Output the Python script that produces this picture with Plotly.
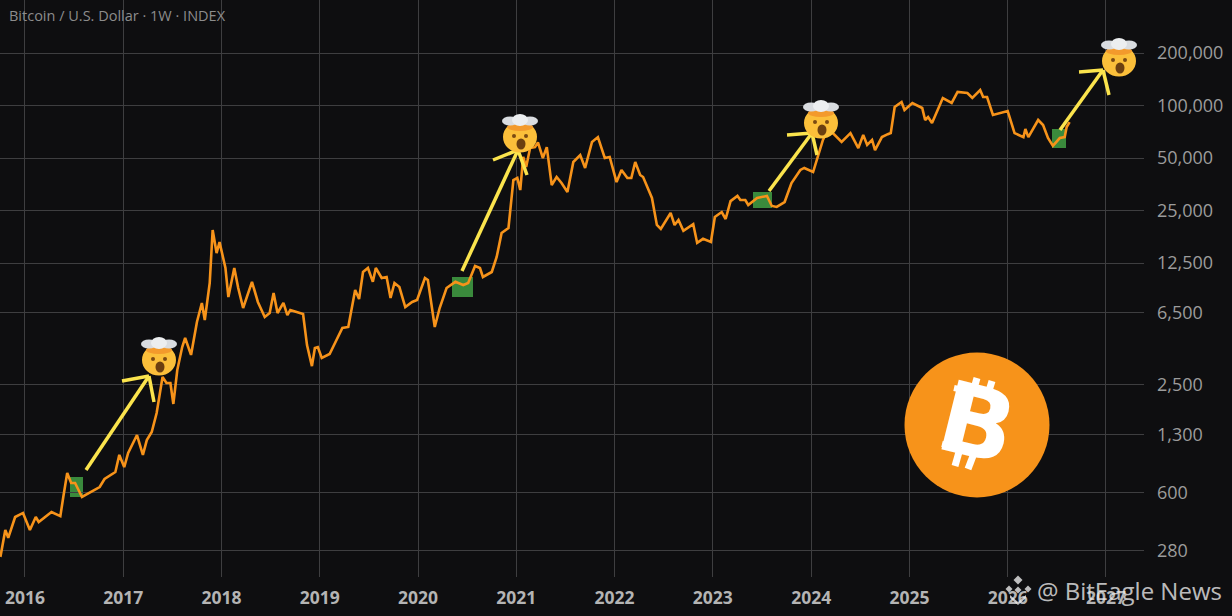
import plotly.graph_objects as go

# weekly BTC close (decimal year, USD)
years = [
    2015.75, 2015.80, 2015.83, 2015.90, 2015.98, 2016.05, 2016.11, 2016.14, 2016.27, 2016.36, 2016.39, 2016.43,
    2016.47, 2016.51, 2016.58, 2016.68, 2016.76, 2016.81, 2016.92, 2016.96, 2017.01, 2017.05, 2017.14, 2017.20,
    2017.24, 2017.29, 2017.34, 2017.40, 2017.44, 2017.48, 2017.51, 2017.55, 2017.60, 2017.63, 2017.69, 2017.75,
    2017.80, 2017.83, 2017.88, 2017.91, 2017.95, 2017.98, 2018.04, 2018.07, 2018.11, 2018.13, 2018.17, 2018.22,
    2018.31, 2018.37, 2018.44, 2018.49, 2018.53, 2018.57, 2018.63, 2018.67, 2018.70, 2018.83, 2018.87, 2018.92,
    2018.95, 2018.98, 2019.02, 2019.10, 2019.23, 2019.29, 2019.36, 2019.40, 2019.44, 2019.49, 2019.54, 2019.57,
    2019.63, 2019.68, 2019.72, 2019.76, 2019.81, 2019.87, 2019.94, 2019.99, 2020.07, 2020.10, 2020.17, 2020.22,
    2020.29, 2020.38, 2020.46, 2020.51, 2020.58, 2020.63, 2020.66, 2020.75, 2020.80, 2020.85, 2020.92, 2020.97,
    2021.01, 2021.04, 2021.07, 2021.10, 2021.14, 2021.19, 2021.22, 2021.27, 2021.31, 2021.36, 2021.41, 2021.46,
    2021.52, 2021.58, 2021.65, 2021.70, 2021.77, 2021.83, 2021.90, 2021.95, 2022.02, 2022.07, 2022.13, 2022.17,
    2022.21, 2022.26, 2022.29, 2022.38, 2022.43, 2022.47, 2022.57, 2022.61, 2022.65, 2022.70, 2022.80, 2022.84,
    2022.90, 2022.98, 2023.02, 2023.09, 2023.13, 2023.18, 2023.25, 2023.28, 2023.33, 2023.36, 2023.45, 2023.55,
    2023.60, 2023.65, 2023.73, 2023.80, 2023.89, 2023.93, 2024.02, 2024.07, 2024.12, 2024.16, 2024.22, 2024.31,
    2024.40, 2024.48, 2024.53, 2024.57, 2024.62, 2024.65, 2024.72, 2024.78, 2024.81, 2024.85, 2024.92, 2024.95,
    2025.03, 2025.13, 2025.16, 2025.19, 2025.23, 2025.34, 2025.43, 2025.49, 2025.59, 2025.64, 2025.72, 2025.75,
    2025.79, 2025.85, 2026.00, 2026.07, 2026.16, 2026.18, 2026.21, 2026.31, 2026.36, 2026.41, 2026.46, 2026.53,
    2026.58, 2026.60, 2026.63,
]
prices = [
    258, 368, 332, 437, 461, 368, 437, 409, 467, 442, 569, 781,
    685, 685, 569, 616, 649, 722, 791, 992, 845, 1017, 1290, 992,
    1207, 1342, 1726, 2775, 2563, 2563, 1944, 3044, 4119, 4644, 3713, 5737,
    7375, 5888, 9600, 19325, 14250, 16475, 11700, 7975, 10675, 11700, 8990, 6900,
    9750, 7475, 6130, 6460, 8410, 6460, 7375, 6280, 6725, 6370, 4230, 3205,
    4070, 4119, 3565, 3760, 5300, 5370, 8750, 7775, 11100, 11700, 9750, 11700,
    10250, 10390, 7875, 9600, 9100, 6990, 7475, 7670, 10250, 9990, 5370, 6900,
    8990, 9750, 9350, 9600, 12010, 11700, 10390, 11100, 13525, 18575, 19850, 37400,
    38400, 32750, 50700, 44400, 57000, 57700, 61400, 50000, 57700, 35000, 38900, 35950,
    31900, 47450, 52000, 43850, 61800, 65900, 50000, 50700, 36400, 42700, 38400, 38400,
    47450, 39950, 38900, 29500, 20650, 19600, 24200, 20650, 22050, 19100, 20900, 16300,
    17200, 16500, 22950, 24500, 22350, 28300, 30300, 28700, 28700, 26900, 29500, 30300,
    26550, 26200, 27950, 35950, 42700, 43850, 41550, 50700, 63500, 70500, 69500, 61800,
    69500, 57000, 67700, 59400, 63500, 55500, 65900, 68500, 69500, 98000, 104800, 94200,
    103400, 96800, 82600, 85900, 79400, 110400, 103400, 119600, 118000, 110400, 122700, 111800,
    111800, 88200, 93000, 69500, 65900, 73400, 65900, 82600, 77300, 65100, 58700, 65100,
    65900, 75300, 80300,
]

year_ticks = [2016, 2017, 2018, 2019, 2020, 2021, 2022, 2023, 2024, 2025, 2026, 2027]
price_ticks = [400000, 200000, 100000, 50000, 25000, 12500, 6500, 2500, 1300, 600, 280]
price_labels = ["", "200,000", "100,000", "50,000", "25,000", "12,500", "6,500", "2,500", "1,300", "600", "280"]

title_text = "Bitcoin / U.S. Dollar · 1W · INDEX"
watermark = "@ BitEagle News"

BG = "#0e0e10"
GRID = "#3e3e40"
ORANGE = "#f7931a"
YELLOW = "#fbe44d"
GREEN = "#3a8a3c"

PLOT_W = 1144
PLOT_H = 577


def px(x):
    return x / PLOT_W


def py(y):
    return 1 - y / PLOT_H


def seg(x0, y0, x1, y1, color, width):
    return dict(type="line", xref="paper", yref="paper", x0=px(x0), y0=py(y0), x1=px(x1), y1=py(y1),
                line=dict(color=color, width=width), layer="above")


def oval(cx, cy, rx, ry, color):
    return dict(type="circle", xref="paper", yref="paper", x0=px(cx - rx), x1=px(cx + rx),
                y0=py(cy - ry), y1=py(cy + ry), fillcolor=color, line=dict(width=0), layer="above")


def box(x0, y0, x1, y1):
    return dict(type="rect", xref="paper", yref="paper", x0=px(x0), x1=px(x1), y0=py(y0), y1=py(y1),
                fillcolor=GREEN, line=dict(width=0), layer="below")


def poly(points, color):
    path = "M " + " L ".join(f"{px(a):.5f},{py(b):.5f}" for a, b in points) + " Z"
    return dict(type="path", xref="paper", yref="paper", path=path, fillcolor=color,
                line=dict(width=0), layer="above")


def arrow(start, tip, barb1, barb2):
    return [seg(*start, *tip, YELLOW, 3.5), seg(*barb1, *tip, YELLOW, 3.5), seg(*barb2, *tip, YELLOW, 3.5)]


def mind_blown(cx, cy):
    parts = [
        oval(cx, cy, 17, 15.5, "#fbbf3a"),
        oval(cx, cy - 10, 13, 4, "#f39a2c"),
        oval(cx - 10, cy - 16, 8, 4.5, "#d9dce0"),
        oval(cx + 10, cy - 16, 8, 4.5, "#d9dce0"),
        oval(cx, cy - 17, 8, 6, "#eceef0"),
        oval(cx - 6, cy - 1, 2, 2, "#7a4a12"),
        oval(cx + 6, cy - 1, 2, 2, "#7a4a12"),
        oval(cx + 1, cy + 7, 4.5, 5.5, "#6b3f10"),
    ]
    return parts


def diamond(cx, cy, r, color):
    return poly([(cx, cy - r), (cx + r, cy), (cx, cy + r), (cx - r, cy)], color)


shapes = []
shapes += [box(70, 477, 83, 497), box(452, 277, 473, 297), box(753, 192, 772, 208), box(1052, 129, 1066, 148)]
shapes += arrow((86, 470), (149, 376), (122, 381), (154, 402))
shapes += arrow((462, 271), (518, 150), (493, 160), (527, 175))
shapes += arrow((769, 191), (812, 133), (787, 135), (817, 155))
shapes += arrow((1060, 130), (1103, 70), (1079, 72), (1109, 95))
for c in [(159, 360), (520, 137), (821, 123), (1119, 61)]:
    shapes += mind_blown(*c)

# bitcoin logo
shapes.append(oval(977, 425, 72.5, 72.5, ORANGE))

# binance diamond next to the watermark
WM = "rgba(235,235,235,0.8)"
shapes += [diamond(1018, 580, 4.5, WM), diamond(1009, 589, 3.5, WM), diamond(1028, 589, 3.5, WM),
           diamond(1018, 590, 3.5, WM)]
shapes.append(poly([(1010, 595), (1018, 602), (1026, 595), (1026, 598), (1018, 605), (1010, 598)], WM))

fig = go.Figure()
fig.add_trace(go.Scatter(x=years, y=prices, mode="lines", line=dict(color=ORANGE, width=2.6), hoverinfo="skip"))

# bars and serifs of the bitcoin sign, drawn over the circle
fig.update_layout(
    width=1232,
    height=616,
    margin=dict(l=0, r=88, t=0, b=39),
    paper_bgcolor=BG,
    plot_bgcolor=BG,
    showlegend=False,
    shapes=shapes + [
        seg(977, 378, 973, 392, "#ffffff", 7),
        seg(992, 381, 988, 394, "#ffffff", 7),
        seg(959, 452, 955, 466, "#ffffff", 7),
        seg(973, 456, 968, 469, "#ffffff", 7),
        seg(954, 388, 972, 392, "#ffffff", 6),
        seg(942, 444, 965, 450, "#ffffff", 6),
    ],
    xaxis=dict(
        range=[2015.746, 2027.387],
        tickvals=year_ticks,
        ticktext=[str(y) for y in year_ticks],
        showgrid=True,
        gridcolor=GRID,
        gridwidth=1,
        zeroline=False,
        showline=False,
        ticks="",
        ticklabelstandoff=8,
        tickfont=dict(family="Open Sans", size=17.5, color="#b4b4b4", weight="bold"),
    ),
    yaxis=dict(
        type="log",
        side="right",
        range=[2.2964, 5.605],
        tickvals=price_ticks,
        ticktext=price_labels,
        showgrid=True,
        gridcolor=GRID,
        gridwidth=1,
        zeroline=False,
        showline=False,
        ticks="",
        ticklabelstandoff=12,
        tickfont=dict(family="Open Sans", size=18, color="#9c9c9c"),
    ),
    annotations=[
        dict(text=title_text, xref="paper", yref="paper", x=px(7), y=py(15), xanchor="left", yanchor="middle",
             showarrow=False, font=dict(family="Open Sans", size=14.5, color="#8c8c8c")),
        dict(text=watermark, xref="paper", yref="paper", x=px(1035), y=py(590), xanchor="left", yanchor="middle",
             showarrow=False, font=dict(family="Open Sans", size=24, color="rgba(235,235,235,0.8)")),
        dict(text="B", xref="paper", yref="paper", x=px(977), y=py(423), xanchor="center", yanchor="middle",
             textangle=14, showarrow=False, font=dict(family="DejaVu Sans", size=98, color="#ffffff", weight="bold")),
    ],
)

fig.write_html("out.html", config={"displayModeBar": False},
               post_script="document.body.style.margin='0';document.body.style.background='#0e0e10';")
